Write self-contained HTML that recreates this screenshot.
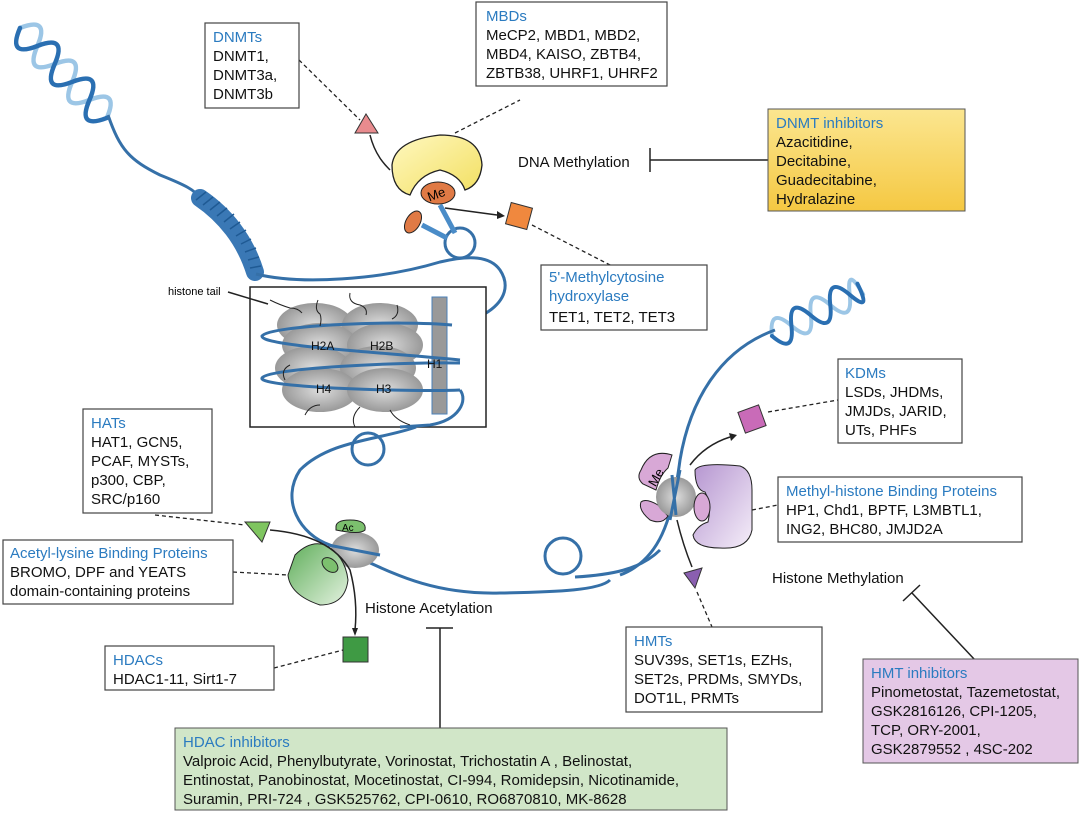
<!DOCTYPE html>
<html><head><meta charset="utf-8"><style>
body{margin:0;background:#fff;}
svg{display:block;font-family:"Liberation Sans",sans-serif;}
.t{font-size:15px;fill:#111;}
.h{font-size:15px;fill:#2b7bc0;}
.box{fill:#fff;stroke:#444;stroke-width:1.2;}
.dna{fill:none;stroke:#3570a8;stroke-width:3;}
.dash{stroke:#222;stroke-width:1.3;stroke-dasharray:4,3;fill:none;}
.ln{stroke:#222;stroke-width:1.5;fill:none;}
</style></head><body>
<svg width="1080" height="813" viewBox="0 0 1080 813">
<defs>
<linearGradient id="yel" x1="0" y1="0" x2="1" y2="1"><stop offset="0" stop-color="#fff8c0"/><stop offset="1" stop-color="#f2df60"/></linearGradient>
<linearGradient id="grn" x1="0" y1="0" x2="1" y2="1"><stop offset="0" stop-color="#5fae5a"/><stop offset="1" stop-color="#e4f2e0"/></linearGradient>
<linearGradient id="pur" x1="0" y1="0" x2="1" y2="1"><stop offset="0" stop-color="#b595d0"/><stop offset="1" stop-color="#f5eef9"/></linearGradient>
<radialGradient id="gr"><stop offset="0" stop-color="#ddd"/><stop offset="1" stop-color="#999"/></radialGradient>
<linearGradient id="dnmtinh" x1="0" y1="0" x2="0" y2="1"><stop offset="0" stop-color="#fbe690"/><stop offset="1" stop-color="#f5c842"/></linearGradient>
</defs>

<!-- DNA helix top-left -->
<g transform="translate(20,28) rotate(46)" fill="none" stroke-width="4.5" stroke-linecap="round">
<path d="M0 0 Q12.5 -30 25 0 T50 0 T75 0 T100 0 T125 0" stroke="#9cc6e6"/>
<path d="M0 0 Q12.5 30 25 0 T50 0 T75 0 T100 0 T125 0" stroke="#2a6fb2"/>
</g>
<path class="dna" d="M108 115 C120 150 130 160 160 175 C185 185 195 190 200 198"/>
<!-- coil -->
<path d="M200 198 C225 215 245 240 255 272" stroke="#3a78b5" stroke-width="18" fill="none" stroke-linecap="round"/>
<g fill="none" stroke="#1f5a94" stroke-width="1.5">
<path d="M196 200 l10 -8 M203 205 l10 -8 M210 210 l10 -8 M217 216 l10 -8 M224 222 l10 -8 M230 229 l10 -7 M236 236 l10 -6 M241 244 l10 -5 M245 252 l11 -4 M248 260 l11 -3 M250 268 l11 -2"/>
</g>
<path class="dna" d="M256 274 C300 285 380 280 440 262 C470 255 490 256 500 270 C520 300 480 330 410 330"/>
<circle cx="460" cy="243" r="15" fill="#fff" stroke="#3570a8" stroke-width="3"/>

<!-- nucleosome box -->
<rect x="250" y="287" width="236" height="140" fill="#fff" stroke="#222" stroke-width="1.5"/>
<text x="168" y="295" style="font-size:11px">histone tail</text>
<path class="ln" d="M228 292 L268 304" stroke-width="1"/>
<g fill="url(#gr)">
<ellipse cx="315" cy="325" rx="38" ry="22"/><ellipse cx="380" cy="325" rx="38" ry="22"/>
<ellipse cx="320" cy="345" rx="38" ry="22"/><ellipse cx="385" cy="345" rx="38" ry="22"/>
<ellipse cx="313" cy="368" rx="38" ry="22"/><ellipse cx="378" cy="368" rx="38" ry="22"/>
<ellipse cx="320" cy="390" rx="38" ry="22"/><ellipse cx="385" cy="390" rx="38" ry="22"/>
</g>
<rect x="432" y="297" width="15" height="117" fill="#999" stroke="#4a80b8"/>
<g class="dna" stroke-width="2.5">
<path d="M452 325 C400 320 270 325 262 336 C260 346 380 352 460 360"/>
<path d="M460 363 C400 362 268 368 262 378 C258 388 420 392 460 390"/>
<path d="M460 390 C468 400 460 420 430 425 L400 427"/>
</g>
<g stroke="#222" fill="none" stroke-width="1">
<path d="M270 300 q10 5 20 8 q8 0 12 5"/><path d="M318 300 q-4 10 2 14 q2 5 0 12"/><path d="M350 293 q-2 10 10 12 q8 3 6 10"/><path d="M397 305 q3 10-5 14"/>
<path d="M290 365 q-10 5-5 15"/><path d="M305 415 q5-10 15-10"/><path d="M355 427 q-5-10 5-20"/><path d="M390 410 q5 10 20 15"/>
</g>
<g style="font-size:12px" fill="#111">
<text x="311" y="350">H2A</text><text x="370" y="350">H2B</text><text x="316" y="393">H4</text><text x="376" y="393">H3</text><text x="427" y="368">H1</text>
</g>
<path class="dna" d="M416 427 C380 440 330 440 300 470 C280 500 300 535 330 545"/>
<circle cx="368" cy="449" r="16" fill="none" stroke="#3570a8" stroke-width="3"/>

<!-- DNA methylation complex -->
<path class="ln" d="M370 135 C375 155 385 165 390 170"/>
<polygon points="355,133 366,114 378,133" fill="#e88b8e" stroke="#333"/>
<path class="dash" d="M299 60 L360 120"/>
<path d="M392 165 Q395 140 440 135 Q480 135 482 165 Q480 185 465 190 Q460 175 440 170 Q418 175 410 195 Q392 190 392 165Z" fill="url(#yel)" stroke="#222" stroke-width="1.3"/>
<path class="dash" d="M455 133 L520 100"/>
<ellipse cx="438" cy="193" rx="17" ry="11" fill="#e07a45" stroke="#222"/><text x="427" y="198" style="font-size:13px" transform="rotate(-20 438 193)">Me</text>
<ellipse cx="413" cy="222" rx="7" ry="12" fill="#e07a45" stroke="#222" transform="rotate(30 413 222)"/>
<path d="M440 205 L455 233 M422 225 L447 238" stroke="#4a8cc8" stroke-width="5"/>
<path class="ln" d="M445 208 L497 215"/><polygon points="497,211 505,216 497,219" fill="#222"/>
<rect x="508" y="205" width="22" height="22" fill="#f0883e" stroke="#333" transform="rotate(15 519 216)"/>
<path class="dash" d="M532 225 L612 266"/>
<text x="518" y="167" class="t">DNA Methylation</text>
<path class="ln" d="M650 160 L768 160 M650 148 L650 172"/>

<!-- boxes -->
<rect class="box" x="205" y="23" width="94" height="85"/>
<text x="213" y="42" class="h">DNMTs</text><text x="213" y="61" class="t">DNMT1,</text><text x="213" y="80" class="t">DNMT3a,</text><text x="213" y="99" class="t">DNMT3b</text>
<rect class="box" x="476" y="2" width="191" height="84"/>
<text x="486" y="21" class="h">MBDs</text><text x="486" y="40" class="t">MeCP2, MBD1, MBD2,</text><text x="486" y="59" class="t">MBD4, KAISO, ZBTB4,</text><text x="486" y="78" class="t">ZBTB38, UHRF1, UHRF2</text>
<rect x="768" y="109" width="197" height="102" fill="url(#dnmtinh)" stroke="#555"/>
<text x="776" y="128" class="h">DNMT inhibitors</text><text x="776" y="147" class="t">Azacitidine,</text><text x="776" y="166" class="t">Decitabine,</text><text x="776" y="185" class="t">Guadecitabine,</text><text x="776" y="204" class="t">Hydralazine</text>
<rect class="box" x="541" y="265" width="166" height="65"/>
<text x="549" y="282" class="h">5'-Methylcytosine</text><text x="549" y="301" class="h">hydroxylase</text><text x="549" y="322" class="t">TET1, TET2, TET3</text>

<!-- right DNA -->
<g transform="translate(772,336) rotate(-28)" fill="none" stroke-width="4" stroke-linecap="round">
<path d="M0 0 Q11 -28 22 0 T44 0 T66 0 T88 0 T100 6" stroke="#9cc6e6"/>
<path d="M0 0 Q11 28 22 0 T44 0 T66 0 T88 0 T100 -6" stroke="#2a6fb2"/>
</g>
<path class="dna" d="M775 330 C720 350 690 400 680 460 C672 520 660 560 620 575"/>
<path class="dna" d="M330 545 C380 565 420 595 500 593 C560 592 600 590 610 580"/>
<ellipse cx="563" cy="556" rx="18" ry="18" fill="none" stroke="#3570a8" stroke-width="3"/>
<path class="dna" d="M575 577 C610 575 640 570 660 550"/>
<!-- histone methylation -->
<path d="M641 470 Q650 448 672 455 L668 468 Q660 475 656 490 L643 484 Q636 478 641 470Z" fill="#d8a8d6" stroke="#222"/>
<text x="647" y="483" style="font-size:13px" transform="rotate(-60 655 478)">Me</text>
<path d="M641 502 Q646 498 658 505 L668 516 Q662 525 650 520 Q638 510 641 502Z" fill="#d8a8d6" stroke="#222"/>
<circle cx="676" cy="497" r="20" fill="url(#gr)"/>
<path class="dna" stroke-width="2.5" d="M672 475 L676 515 M680 470 L670 520"/>
<path d="M695 470 Q700 462 740 466 Q752 470 752 490 L752 530 Q748 550 720 548 Q695 548 693 535 Q698 525 708 522 Q712 505 705 492 Q695 490 695 470Z" fill="url(#pur)" stroke="#222"/>
<ellipse cx="702" cy="507" rx="8" ry="14" fill="#d8a8d6" stroke="#222"/>
<path class="ln" d="M690 465 Q705 445 730 437"/><polygon points="729,433 737,435 731,441" fill="#222"/>
<rect x="741" y="408" width="22" height="22" fill="#c96bb8" stroke="#333" transform="rotate(-20 752 419)"/>
<path class="dash" d="M768 412 L838 400"/>
<path class="dash" d="M752 510 L778 505"/>
<path class="ln" d="M677 520 Q683 545 692 567"/>
<polygon points="684,573 702,568 695,588" fill="#8a5fb0" stroke="#333"/>
<path class="dash" d="M697 592 L712 627"/>
<text x="772" y="583" class="t">Histone Methylation</text>
<path class="ln" d="M912 593 L975 660 M903 601 L920 585"/>
<rect class="box" x="838" y="359" width="124" height="84"/>
<text x="845" y="378" class="h">KDMs</text><text x="845" y="397" class="t">LSDs, JHDMs,</text><text x="845" y="416" class="t">JMJDs, JARID,</text><text x="845" y="435" class="t">UTs, PHFs</text>
<rect class="box" x="778" y="477" width="244" height="65"/>
<text x="786" y="496" class="h">Methyl-histone Binding Proteins</text><text x="786" y="515" class="t">HP1, Chd1, BPTF, L3MBTL1,</text><text x="786" y="534" class="t">ING2, BHC80, JMJD2A</text>
<rect class="box" x="626" y="627" width="196" height="85"/>
<text x="634" y="646" class="h">HMTs</text><text x="634" y="665" class="t">SUV39s, SET1s, EZHs,</text><text x="634" y="684" class="t">SET2s, PRDMs, SMYDs,</text><text x="634" y="703" class="t">DOT1L, PRMTs</text>
<rect x="863" y="659" width="215" height="104" fill="#e4c8e6" stroke="#555"/>
<text x="871" y="678" class="h">HMT inhibitors</text><text x="871" y="697" class="t">Pinometostat, Tazemetostat,</text><text x="871" y="716" class="t">GSK2816126, CPI-1205,</text><text x="871" y="735" class="t">TCP, ORY-2001,</text><text x="871" y="754" class="t">GSK2879552 , 4SC-202</text>

<!-- acetylation -->
<ellipse cx="355" cy="550" rx="24" ry="18" fill="url(#gr)"/>
<path class="dna" d="M328 545 L380 555" stroke-width="2.5"/>
<path d="M336 528 Q335 520 350 520 Q367 520 365 530 Q360 535 336 530Z" fill="#7cc06e" stroke="#222"/>
<text x="342" y="531" style="font-size:10px">Ac</text>
<path d="M295 555 Q310 540 325 545 Q345 555 348 580 Q345 605 320 605 Q290 595 288 575Z" fill="url(#grn)" stroke="#222"/>
<ellipse cx="330" cy="565" rx="9" ry="6" fill="#7cc06e" stroke="#222" transform="rotate(40 330 565)"/>
<path class="ln" d="M270 530 Q330 535 350 570 Q358 600 355 630"/>
<polygon points="352,628 358,628 355,636" fill="#222"/>
<polygon points="245,522 270,522 262,542" fill="#7fc560" stroke="#333"/>
<rect x="343" y="637" width="25" height="25" fill="#3f9a44" stroke="#333"/>
<path class="dash" d="M155 515 L245 525"/>
<path class="dash" d="M233 572 L288 575"/>
<path class="dash" d="M274 668 L343 650"/>
<text x="365" y="613" class="t">Histone Acetylation</text>
<path class="ln" d="M426 628 L453 628 M440 628 L440 728"/>
<rect class="box" x="83" y="409" width="129" height="104"/>
<text x="91" y="428" class="h">HATs</text><text x="91" y="447" class="t">HAT1, GCN5,</text><text x="91" y="466" class="t">PCAF, MYSTs,</text><text x="91" y="485" class="t">p300, CBP,</text><text x="91" y="504" class="t">SRC/p160</text>
<rect class="box" x="3" y="540" width="230" height="64"/>
<text x="10" y="558" class="h">Acetyl-lysine Binding Proteins</text><text x="10" y="577" class="t">BROMO, DPF and YEATS</text><text x="10" y="596" class="t">domain-containing proteins</text>
<rect class="box" x="105" y="646" width="169" height="44"/>
<text x="113" y="665" class="h">HDACs</text><text x="113" y="684" class="t">HDAC1-11, Sirt1-7</text>
<rect x="175" y="728" width="552" height="82" fill="#d1e6c8" stroke="#555"/>
<text x="183" y="747" class="h">HDAC inhibitors</text>
<text x="183" y="766" class="t">Valproic Acid, Phenylbutyrate, Vorinostat, Trichostatin A , Belinostat,</text>
<text x="183" y="785" class="t">Entinostat, Panobinostat, Mocetinostat, CI-994, Romidepsin, Nicotinamide,</text>
<text x="183" y="804" class="t">Suramin, PRI-724 , GSK525762, CPI-0610, RO6870810, MK-8628</text>
</svg>
</body></html>
